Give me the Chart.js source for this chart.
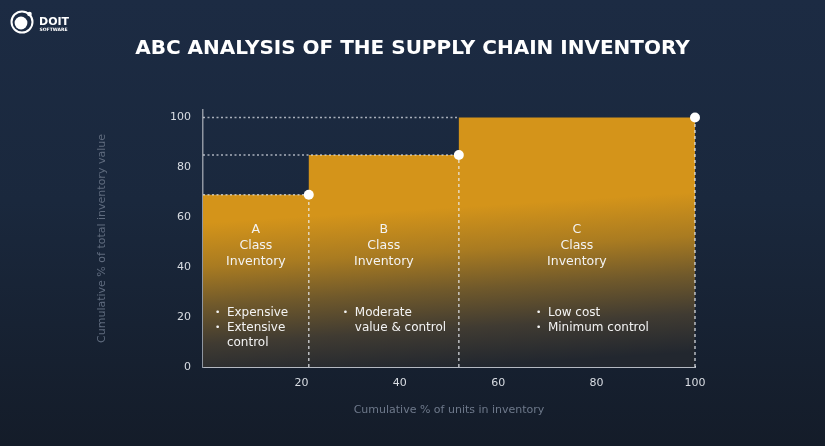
<!DOCTYPE html>
<html>
<head>
<meta charset="utf-8">
<script src="https://cdn.jsdelivr.net/npm/chart.js@4"></script>
<style>
  html, body { margin: 0; padding: 0; }
  body { width: 825px; height: 446px; overflow: hidden;
         background: linear-gradient(180deg, #1c2b43 0%, #1a283d 45%, #141c29 100%); }
  #wrap { position: relative; width: 825px; height: 446px; }
</style>
</head>
<body>
<div id="wrap"><canvas id="c" width="825" height="446"></canvas></div>
<script>
// ---- data ----
const chartTitle = 'ABC ANALYSIS OF THE SUPPLY CHAIN INVENTORY';
const classNames = ['A', 'B', 'C'];
const unitsCumulative = [21.5, 52, 100];      // cumulative % of units (class right edge)
const valueCumulative = [69, 85, 100];        // cumulative % of total inventory value
const classTitles = [
  ['A', 'Class', 'Inventory'],
  ['B', 'Class', 'Inventory'],
  ['C', 'Class', 'Inventory']
];
const classNotes = [
  [['Expensive'], ['Extensive', 'control']],
  [['Moderate', 'value & control']],
  [['Low cost'], ['Minimum control']]
];
const xTicks = [20, 40, 60, 80, 100];
const yTicks = [0, 20, 40, 60, 80, 100];
const xTitle = 'Cumulative % of units in inventory';
const yTitle = 'Cumulative % of total inventory value';

// ---- derived datasets ----
const stepData = [];
unitsCumulative.forEach((end, i) => {
  const start = i === 0 ? 0 : unitsCumulative[i - 1];
  stepData.push({ x: start, y: valueCumulative[i] });
  stepData.push({ x: end, y: valueCumulative[i] });
});
const pointData = unitsCumulative.map((x, i) => ({ x: x, y: valueCumulative[i] }));

const FONT = "'DejaVu Sans', sans-serif";

const guideSets = [];
unitsCumulative.forEach((end, i) => {
  const last = i === unitsCumulative.length - 1;
  const hEnd = last ? unitsCumulative[i - 1] : end;
  guideSets.push({
    type: 'line', order: 1, clip: false,
    data: [{ x: 0, y: valueCumulative[i] }, { x: hEnd, y: valueCumulative[i] }],
    borderColor: 'rgba(225,229,236,0.72)', borderWidth: 1.5, borderDash: [2, 2.5],
    pointRadius: 0, fill: false
  });
  guideSets.push({
    type: 'line', order: 1, clip: false,
    data: [{ x: end, y: 0 }, { x: end, y: valueCumulative[i] }],
    borderColor: 'rgba(235,238,243,0.75)', borderWidth: 1.5, borderDash: [3, 3],
    pointRadius: 0, fill: false
  });
});

function fillGradient(ctx) {
  const area = ctx.chart.chartArea;
  if (!area) return '#D4941A';
  const cx = (area.left + area.right) / 2;
  const g = ctx.chart.ctx.createLinearGradient(cx - 8, area.top, cx + 8, area.bottom);
  g.addColorStop(0, '#D4941A');
  g.addColorStop(0.38, '#D4941A');
  g.addColorStop(0.55, '#a97b21');
  g.addColorStop(0.70, '#70592b');
  g.addColorStop(0.85, '#403b32');
  g.addColorStop(1, '#22272f');
  return g;
}

const overlay = {
  id: 'overlay',
  afterDraw(chart) {
    const { ctx } = chart;
    const xs = chart.scales.x, ys = chart.scales.y;
    ctx.save();
    // class labels and notes
    unitsCumulative.forEach((end, i) => {
      const start = i === 0 ? 0 : unitsCumulative[i - 1];
      const cx = (xs.getPixelForValue(start) + xs.getPixelForValue(end)) / 2;
      ctx.fillStyle = '#f3f3f3';
      ctx.font = '12.5px ' + FONT;
      ctx.textAlign = 'center';
      ctx.textBaseline = 'middle';
      const ty = ys.getPixelForValue(55.2);
      classTitles[i].forEach((t, k) => ctx.fillText(t, cx, ty + k * 16));
      let ny = ys.getPixelForValue(21.6);
      ctx.textAlign = 'left';
      const tx = cx - 29;
      classNotes[i].forEach(bullet => {
        ctx.font = '9px ' + FONT;
        ctx.fillText('•', tx - 12, ny);
        ctx.font = '12px ' + FONT;
        bullet.forEach(line => { ctx.fillText(line, tx, ny); ny += 15; });
      });
    });
    // logo
    ctx.strokeStyle = '#ffffff';
    ctx.fillStyle = '#ffffff';
    ctx.lineWidth = 2;
    ctx.beginPath(); ctx.arc(22, 22, 10.5, 0, Math.PI * 2); ctx.stroke();
    ctx.beginPath(); ctx.arc(21, 23, 6.4, 0, Math.PI * 2); ctx.fill();
    ctx.beginPath(); ctx.arc(29.5, 14, 2.3, 0, Math.PI * 2); ctx.fill();
    ctx.textAlign = 'left';
    ctx.textBaseline = 'alphabetic';
    ctx.font = 'bold 11px ' + FONT;
    ctx.fillText('DOIT', 39, 25);
    ctx.font = 'bold 4.5px ' + FONT;
    ctx.fillText('SOFTWARE', 39.5, 31);
    ctx.restore();
  }
};

new Chart(document.getElementById('c'), {
  type: 'line',
  data: {
    datasets: [
      {
        type: 'scatter', order: 0, clip: false, data: pointData, showLine: false,
        pointRadius: 5, pointHoverRadius: 5, pointBackgroundColor: '#ffffff', pointBorderWidth: 0
      },
      ...guideSets,
      {
        type: 'line', order: 2, data: stepData, fill: 'origin',
        backgroundColor: fillGradient, borderWidth: 0, pointRadius: 0, tension: 0
      }
    ]
  },
  options: {
    responsive: false,
    animation: false,
    devicePixelRatio: 1,
    layout: { padding: { left: 0, right: 0, top: 0, bottom: 29 } },
    plugins: {
      legend: { display: false },
      tooltip: { enabled: false },
      title: {
        display: true, text: chartTitle, color: '#ffffff',
        font: { family: FONT, size: 20, weight: 'bold', lineHeight: 1.2 },
        padding: { top: 37, bottom: 49 }
      }
    },
    scales: {
      x: {
        type: 'linear', min: 0, max: 100,
        afterBuildTicks: s => { s.ticks = xTicks.map(v => ({ value: v })); },
        afterFit: s => { s.height = 50; },
        grid: { display: false, drawTicks: false },
        border: { display: true, color: '#b4b9c2', width: 2 },
        ticks: { color: '#d9dde3', padding: 10, font: { family: FONT, size: 11 } },
        title: { display: true, text: xTitle, color: '#6e798b', padding: 0,
                 font: { family: FONT, size: 11, lineHeight: 1.2 } }
      },
      y: {
        type: 'linear', min: 0, max: 103,
        afterBuildTicks: s => { s.ticks = yTicks.map(v => ({ value: v })); },
        afterFit: s => { s.width = 203; },
        grid: { display: false, drawTicks: false },
        border: { display: true, color: '#8f96a1', width: 1.5 },
        ticks: { color: '#d9dde3', padding: 12, font: { family: FONT, size: 11 } },
        title: { display: true, text: yTitle, color: '#5f6b7e', padding: { top: 96, bottom: 0 },
                 font: { family: FONT, size: 11, lineHeight: 1.2 } }
      },
      yRight: {
        type: 'linear', position: 'right', display: true,
        afterFit: s => { s.width = 130; },
        grid: { display: false, drawTicks: false },
        border: { display: false },
        ticks: { display: false }
      }
    }
  },
  plugins: [overlay]
});
</script>
</body>
</html>
